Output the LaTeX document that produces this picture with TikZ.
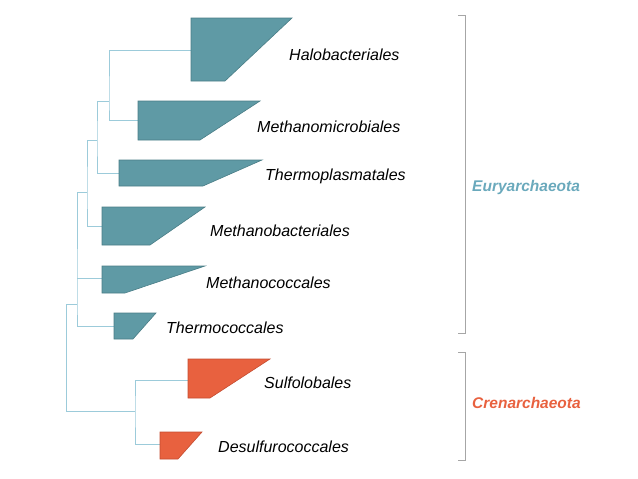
\documentclass[tikz,border=0pt]{standalone}
\usepackage{fontspec}
\setmainfont{Liberation Sans}
\begin{document}
\begin{tikzpicture}[x=1pt,y=-1pt,
  tree/.style={draw=treeblue,line width=1pt},
  eury/.style={fill=teal1,draw=teal2,line width=0.6pt},
  cren/.style={fill=oran1,draw=oran2,line width=0.6pt},
  lab/.style={font=\fontsize{16}{18}\selectfont\itshape,anchor=west,inner sep=0pt},
  grp/.style={font=\fontsize{15.5}{18}\selectfont\bfseries\itshape,anchor=west,inner sep=0pt},
  brk/.style={draw=gray!70,line width=0.8pt}]
\definecolor{treeblue}{HTML}{9CCBDA}
\definecolor{teal1}{HTML}{5F9AA5}
\definecolor{teal2}{HTML}{497D86}
\definecolor{oran1}{HTML}{E8613F}
\definecolor{oran2}{HTML}{C44C30}
\definecolor{eurytxt}{HTML}{6AA9BC}
\definecolor{crentxt}{HTML}{E8613F}
\useasboundingbox (0,0) rectangle (638,479);
% tree
\coordinate (n1) at (109,101);
\coordinate (n2) at (97,140);
\coordinate (n3) at (87,192);
\coordinate (n4) at (77,304);
\coordinate (nc) at (135,411);
\coordinate (r) at (66,411);
\coordinate (h) at (191,50);
\coordinate (mm) at (138,120);
\coordinate (tp) at (119,173);
\coordinate (mb) at (102,226);
\coordinate (mc) at (102,278);
\coordinate (tc) at (114,326);
\coordinate (sf) at (188,380);
\coordinate (ds) at (160,444);
\draw[tree] (h) -| (n1) |- (mm);
\draw[tree] (n1) -| (n2) |- (tp);
\draw[tree] (n2) -| (n3) |- (mb);
\draw[tree] (n3) -| (n4) |- (tc);
\draw[tree] (n4 |- mc) -- (mc);
\draw[tree] (n4) -| (r) -- (nc);
\draw[tree] (sf) -| (nc) |- (ds);
% clades
\draw[eury] (191,18) -- (292,18) -- (225,81) -- (191,81) -- cycle;
\draw[eury] (138,101) -- (260,101) -- (200,140) -- (138,140) -- cycle;
\draw[eury] (119,160) -- (262,160) -- (203,186) -- (119,186) -- cycle;
\draw[eury] (102,207) -- (205,207) -- (150,245) -- (102,245) -- cycle;
\draw[eury] (102,266) -- (205,266) -- (125,293) -- (102,293) -- cycle;
\draw[eury] (114,313) -- (156,313) -- (133,339) -- (114,339) -- cycle;
\draw[cren] (188,359) -- (270,359) -- (210,398) -- (188,398) -- cycle;
\draw[cren] (160,432) -- (202,432) -- (178,459) -- (160,459) -- cycle;
% labels
\node[lab] (lh) at (289,55) {Halobacteriales};
\node[lab] (lmm) at (257,127) {Methanomicrobiales};
\node[lab] (ltp) at (265,176) {Thermoplasmatales};
\node[lab] (lmb) at (210,231) {Methanobacteriales};
\node[lab] (lmc) at (206,283) {Methanococcales};
\node[lab] (ltc) at (166,328) {Thermococcales};
\node[lab] (lsf) at (264,383) {Sulfolobales};
\node[lab] (lds) at (218,447) {Desulfurococcales};
% brackets
\draw[brk] (458,15) -- (465,15) -- (465,333) -- (458,333);
\draw[brk] (458,352) -- (465,352) -- (465,460) -- (458,460);
\node[grp,text=eurytxt] (ge) at (472,187) {Euryarchaeota};
\node[grp,text=crentxt] (gc) at (472,403) {Crenarchaeota};
\end{tikzpicture}
\end{document}
